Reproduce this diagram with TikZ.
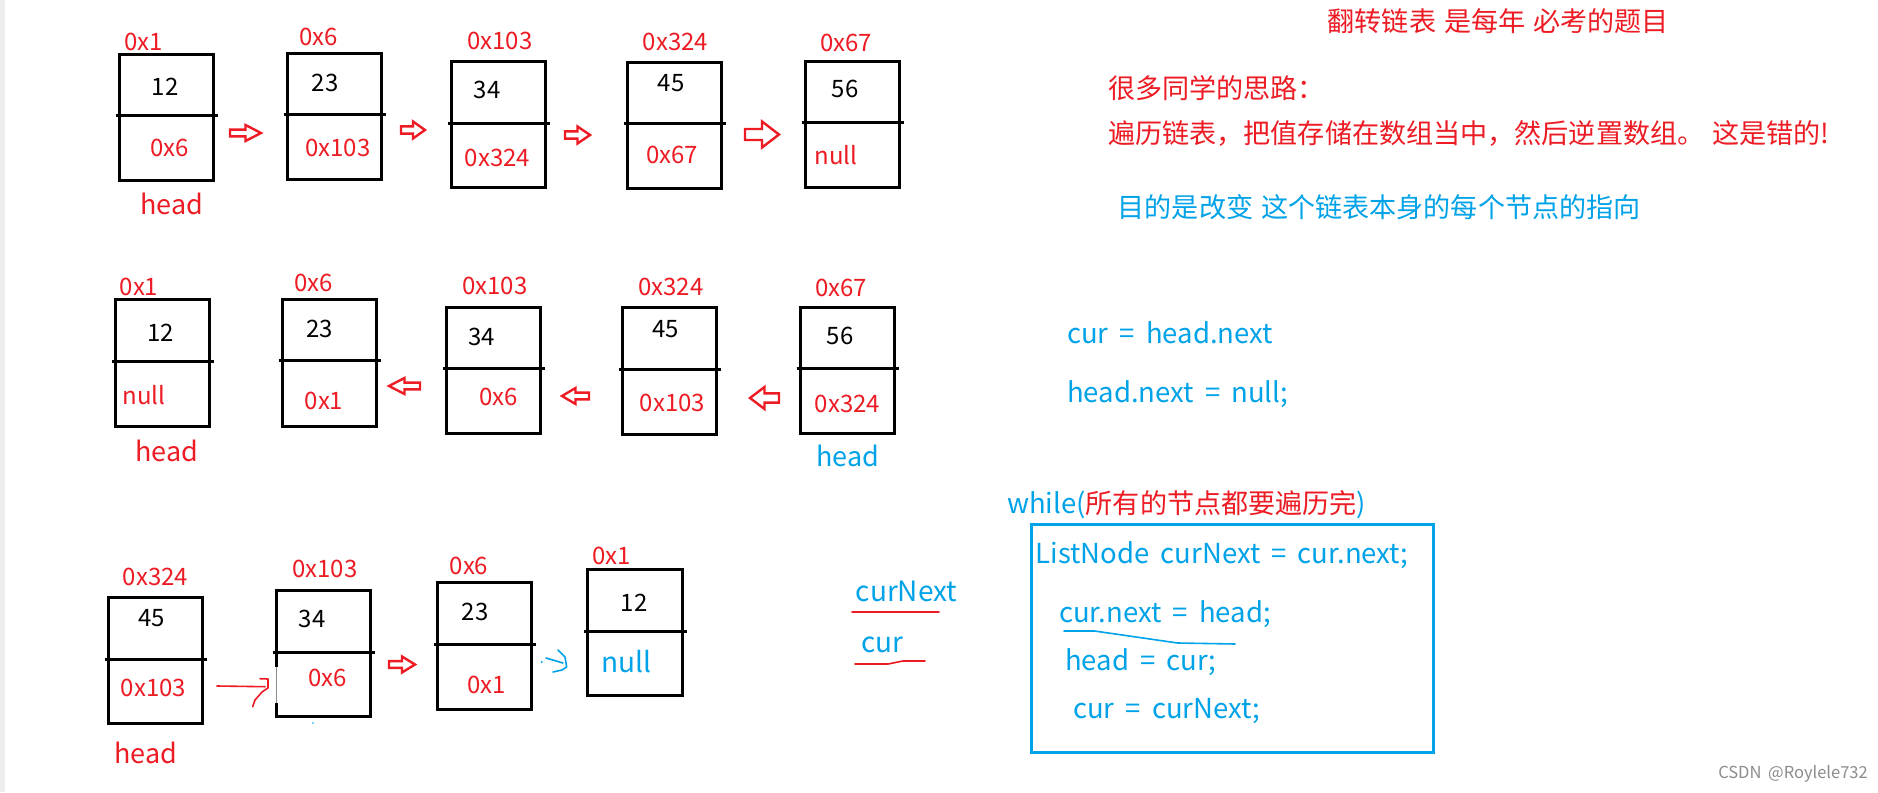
\documentclass[tikz,border=0pt]{standalone}
\usepackage{fontspec}
\setmainfont[WordSpace=1.8]{Noto Sans CJK SC}
\definecolor{pred}{HTML}{ED1C24}
\definecolor{pblue}{HTML}{00A2E8}
\newcommand{\gapsp}{\hskip 8pt\relax}
\tikzset{
  cellbox/.style={draw=black,line width=3pt,fill=none,inner sep=0pt,rectangle},
  divider/.style={draw=black,line width=3pt},
  lab/.style={inner sep=0pt,font=\fontsize{24}{24}\selectfont},
  rlab/.style={lab,text=pred},
  blab/.style={lab,text=pblue},
  klab/.style={lab,text=black},
  para/.style={inner sep=0pt,anchor=base west,font=\fontsize{27.1}{27}\selectfont},
  code/.style={para,font=\fontsize{27.5}{27}\selectfont},
  fat/.style={draw=pred,line width=2.4pt,fill=white,line join=miter},
  scrib/.style={line width=1.6pt,line cap=round,line join=round},
}
% name, left, top, right, bottom, divider y (snapped to the pixel grid)
\newcommand{\cellnode}[6]{%
  \pgfmathsetmacro{\xa}{floor(#2)+0.5}\pgfmathsetmacro{\xb}{floor(#4)+0.5}%
  \pgfmathsetmacro{\ya}{floor(#3)+0.5}\pgfmathsetmacro{\yb}{floor(#5)+0.5}%
  \pgfmathsetmacro{\yd}{floor(#6)+0.5}%
  \pgfmathsetmacro{\cw}{\xb-\xa}\pgfmathsetmacro{\ch}{\yb-\ya}%
  \node[cellbox,minimum width=\cw pt,minimum height=\ch pt] (#1) at ({(\xa+\xb)/2},{(\ya+\yb)/2}) {};%
  \draw[divider] ({\xa-4},\yd) -- ({\xb+4},\yd);%
}
% x tail, x tip, y centre, half height of head; works both directions
\newcommand{\fatarrow}[4]{%
  \pgfmathsetmacro{\hx}{#2-0.5*(#2-#1)}%
  \pgfmathsetmacro{\sh}{0.42*#4}%
  \draw[fat] (#1,{#3-\sh}) -- (\hx,{#3-\sh}) -- (\hx,{#3-#4}) -- (#2,#3) -- (\hx,{#3+#4}) -- (\hx,{#3+\sh}) -- (#1,{#3+\sh}) -- cycle;%
}
\begin{document}
\begin{tikzpicture}[x=1pt,y=-1pt]
\useasboundingbox (0,0) rectangle (1878,792);
\fill[white] (0,0) rectangle (1878,792);
\fill[black!7] (0,0) rectangle (5,792);

% ---- row 1
\cellnode{aA}{119}{54}{213}{180}{115.7}
\cellnode{aB}{287}{53}{381}{179}{114.7}
\cellnode{aC}{451}{61}{545}{187}{123}
\cellnode{aD}{627}{62}{721}{188}{123.7}
\cellnode{aE}{805}{61}{899}{187}{122.7}
\node[rlab] (a1) at (143.5,41.5) {0x1};
\node[rlab] (a2) at (318.5,37) {0x6};
\node[rlab] (a3) at (500,41) {0x103};
\node[rlab] (a4) at (675.5,42) {0x324};
\node[rlab] (a5) at (846,43) {0x67};
\node[klab] (a6) at (165,87) {12};
\node[klab] (a7) at (325,83) {23};
\node[klab] (a8) at (487,90) {34};
\node[klab] (a9) at (671,83) {45};
\node[klab] (a10) at (845,89) {56};
\node[rlab] (a11) at (169.5,148) {0x6};
\node[rlab] (a12) at (338,148) {0x103};
\node[rlab] (a13) at (497.5,158) {0x324};
\node[rlab] (a14) at (672,155) {0x67};
\node[rlab] (a15) at (836,155) {null};
\node[rlab,font=\fontsize{27}{27}\selectfont] (a16) at (172,204) {head};
\fatarrow{230}{261}{133}{8}
\fatarrow{401}{425}{130}{8.5}
\fatarrow{565}{590}{135}{8.5}
\fatarrow{745}{779}{134.5}{13}

% ---- row 2
\cellnode{bA}{115}{299}{209}{426}{361}
\cellnode{bB}{282}{299}{376}{426}{360}
\cellnode{bC}{446}{307}{540}{433}{368}
\cellnode{bD}{622}{307}{716}{434}{369}
\cellnode{bE}{800}{307}{894}{433}{368}
\node[rlab] (b1) at (139,287) {0x1};
\node[rlab] (b2) at (313.5,283) {0x6};
\node[rlab] (b3) at (495,286) {0x103};
\node[rlab] (b4) at (671,287) {0x324};
\node[rlab] (b5) at (841,288) {0x67};
\node[klab] (b6) at (160.5,333) {12};
\node[klab] (b7) at (319.5,329) {23};
\node[klab] (b8) at (481.5,337) {34};
\node[klab] (b9) at (665.5,329) {45};
\node[klab] (b10) at (840,336) {56};
\node[rlab] (b11) at (144,395) {null};
\node[rlab] (b12) at (324,401) {0x1};
\node[rlab] (b13) at (498.5,397) {0x6};
\node[rlab] (b14) at (672.5,403) {0x103};
\node[rlab] (b15) at (847.5,404) {0x324};
\node[rlab,font=\fontsize{27}{27}\selectfont] (b16) at (167,451) {head};
\node[blab,font=\fontsize{27}{27}\selectfont] (b17) at (848,456) {head};
\fatarrow{420}{389}{386}{8}
\fatarrow{589}{562}{396}{8}
\fatarrow{779}{750}{398}{11}

% ---- row 3
\cellnode{cA}{108}{597}{202}{723}{659}
\cellnode{cB}{276}{590}{370}{716}{652}
\cellnode{cC}{437.5}{582}{531.5}{709}{644}
\cellnode{cD}{587}{569}{682}{695}{631}
\fill[white] (274,667) rectangle (279,703);
\draw[black!45,line width=1pt] (276.5,667) -- (276.5,703);
\node[rlab] (c1) at (155.5,577) {0x324};
\node[rlab] (c2) at (325,569) {0x103};
\node[rlab] (c3) at (469,566) {0x6};
\node[rlab] (c4) at (611.5,556) {0x1};
\node[klab] (c5) at (151.5,618) {45};
\node[klab] (c6) at (312,619) {34};
\node[klab] (c7) at (475,612) {23};
\node[klab] (c8) at (634,603) {12};
\node[rlab] (c9) at (153.5,688) {0x103};
\node[rlab] (c10) at (327.5,678) {0x6};
\node[rlab] (c11) at (486.5,685) {0x1};
\node[blab,font=\fontsize{28}{28}\selectfont] (c12) at (626.5,662) {null};
\node[rlab,font=\fontsize{27}{27}\selectfont] (c13) at (146,753) {head};
\fatarrow{389}{415}{664.5}{8}
\draw[pred,scrib] (217,686) -- (265,686.7);
\draw[pred,scrib] (260,678.7) -- (268,679) -- (268,688) -- (262,692) -- (255,700) -- (252.7,706.7);
\draw[pblue,scrib] (558,650) -- (565,657) -- (566.7,667) -- (562,670) -- (553,672);
\draw[pblue,scrib] (546,658) -- (563,663);
\fill[pblue] (541.7,662) circle (1.1);
\fill[pblue] (313,723) circle (0.9);

% ---- curNext / cur
\node[blab,font=\fontsize{28}{28}\selectfont] (d1) at (906.5,591) {curNext};
\node[blab,font=\fontsize{28}{28}\selectfont] (d2) at (882.5,645) {cur};
\draw[pred,scrib] (852,612) -- (939,612);
\draw[pred,scrib] (855,664) -- (888,664) -- (893,663) -- (903,661) -- (925,661);

% ---- right notes
\node[para,text=pred] (e1) at (1327.5,32) {翻转链表\gapsp 是每年\gapsp 必考的题目};
\node[para,text=pred] (e2) at (1108,98) {很多同学的思路：};
\node[para,text=pred] (e3) at (1108,143) {遍历链表，把值存储在数组当中，然后逆置数组。\gapsp 这是错的!};
\node[para,text=pblue] (e4) at (1117.5,217) {目的是改变\gapsp 这个链表本身的每个节点的指向};
\node[code,text=pblue] (e5) at (1067,343) {cur = head.next};
\node[code,text=pblue] (e6) at (1067,402) {head.next = null;};

% ---- while block
\node[code,text=pblue] (f1) at (1007,513) {while({\color{pred}\fontsize{27.1}{27}\selectfont 所有的节点都要遍历完})};
\node[draw=pblue,line width=3.2pt,inner sep=0pt,minimum width=402pt,minimum height=228pt] (f2) at (1232.5,638.7) {};
\node[code,text=pblue] (f3) at (1035.5,563) {ListNode curNext = cur.next;};
\node[code,text=pblue] (f4) at (1059,622) {cur.next = head;};
\node[code,text=pblue] (f5) at (1065,670) {head = cur;};
\node[code,text=pblue] (f6) at (1073,718) {cur = curNext;};
\draw[pblue,scrib] (1064,631) -- (1094.5,631) -- (1177.6,643) -- (1235,644);

\node[inner sep=0pt,text=black!45,font=\fontsize{16.5}{17}\selectfont] (g1) at (1793,774) {CSDN @Roylele732};
\end{tikzpicture}
\end{document}
